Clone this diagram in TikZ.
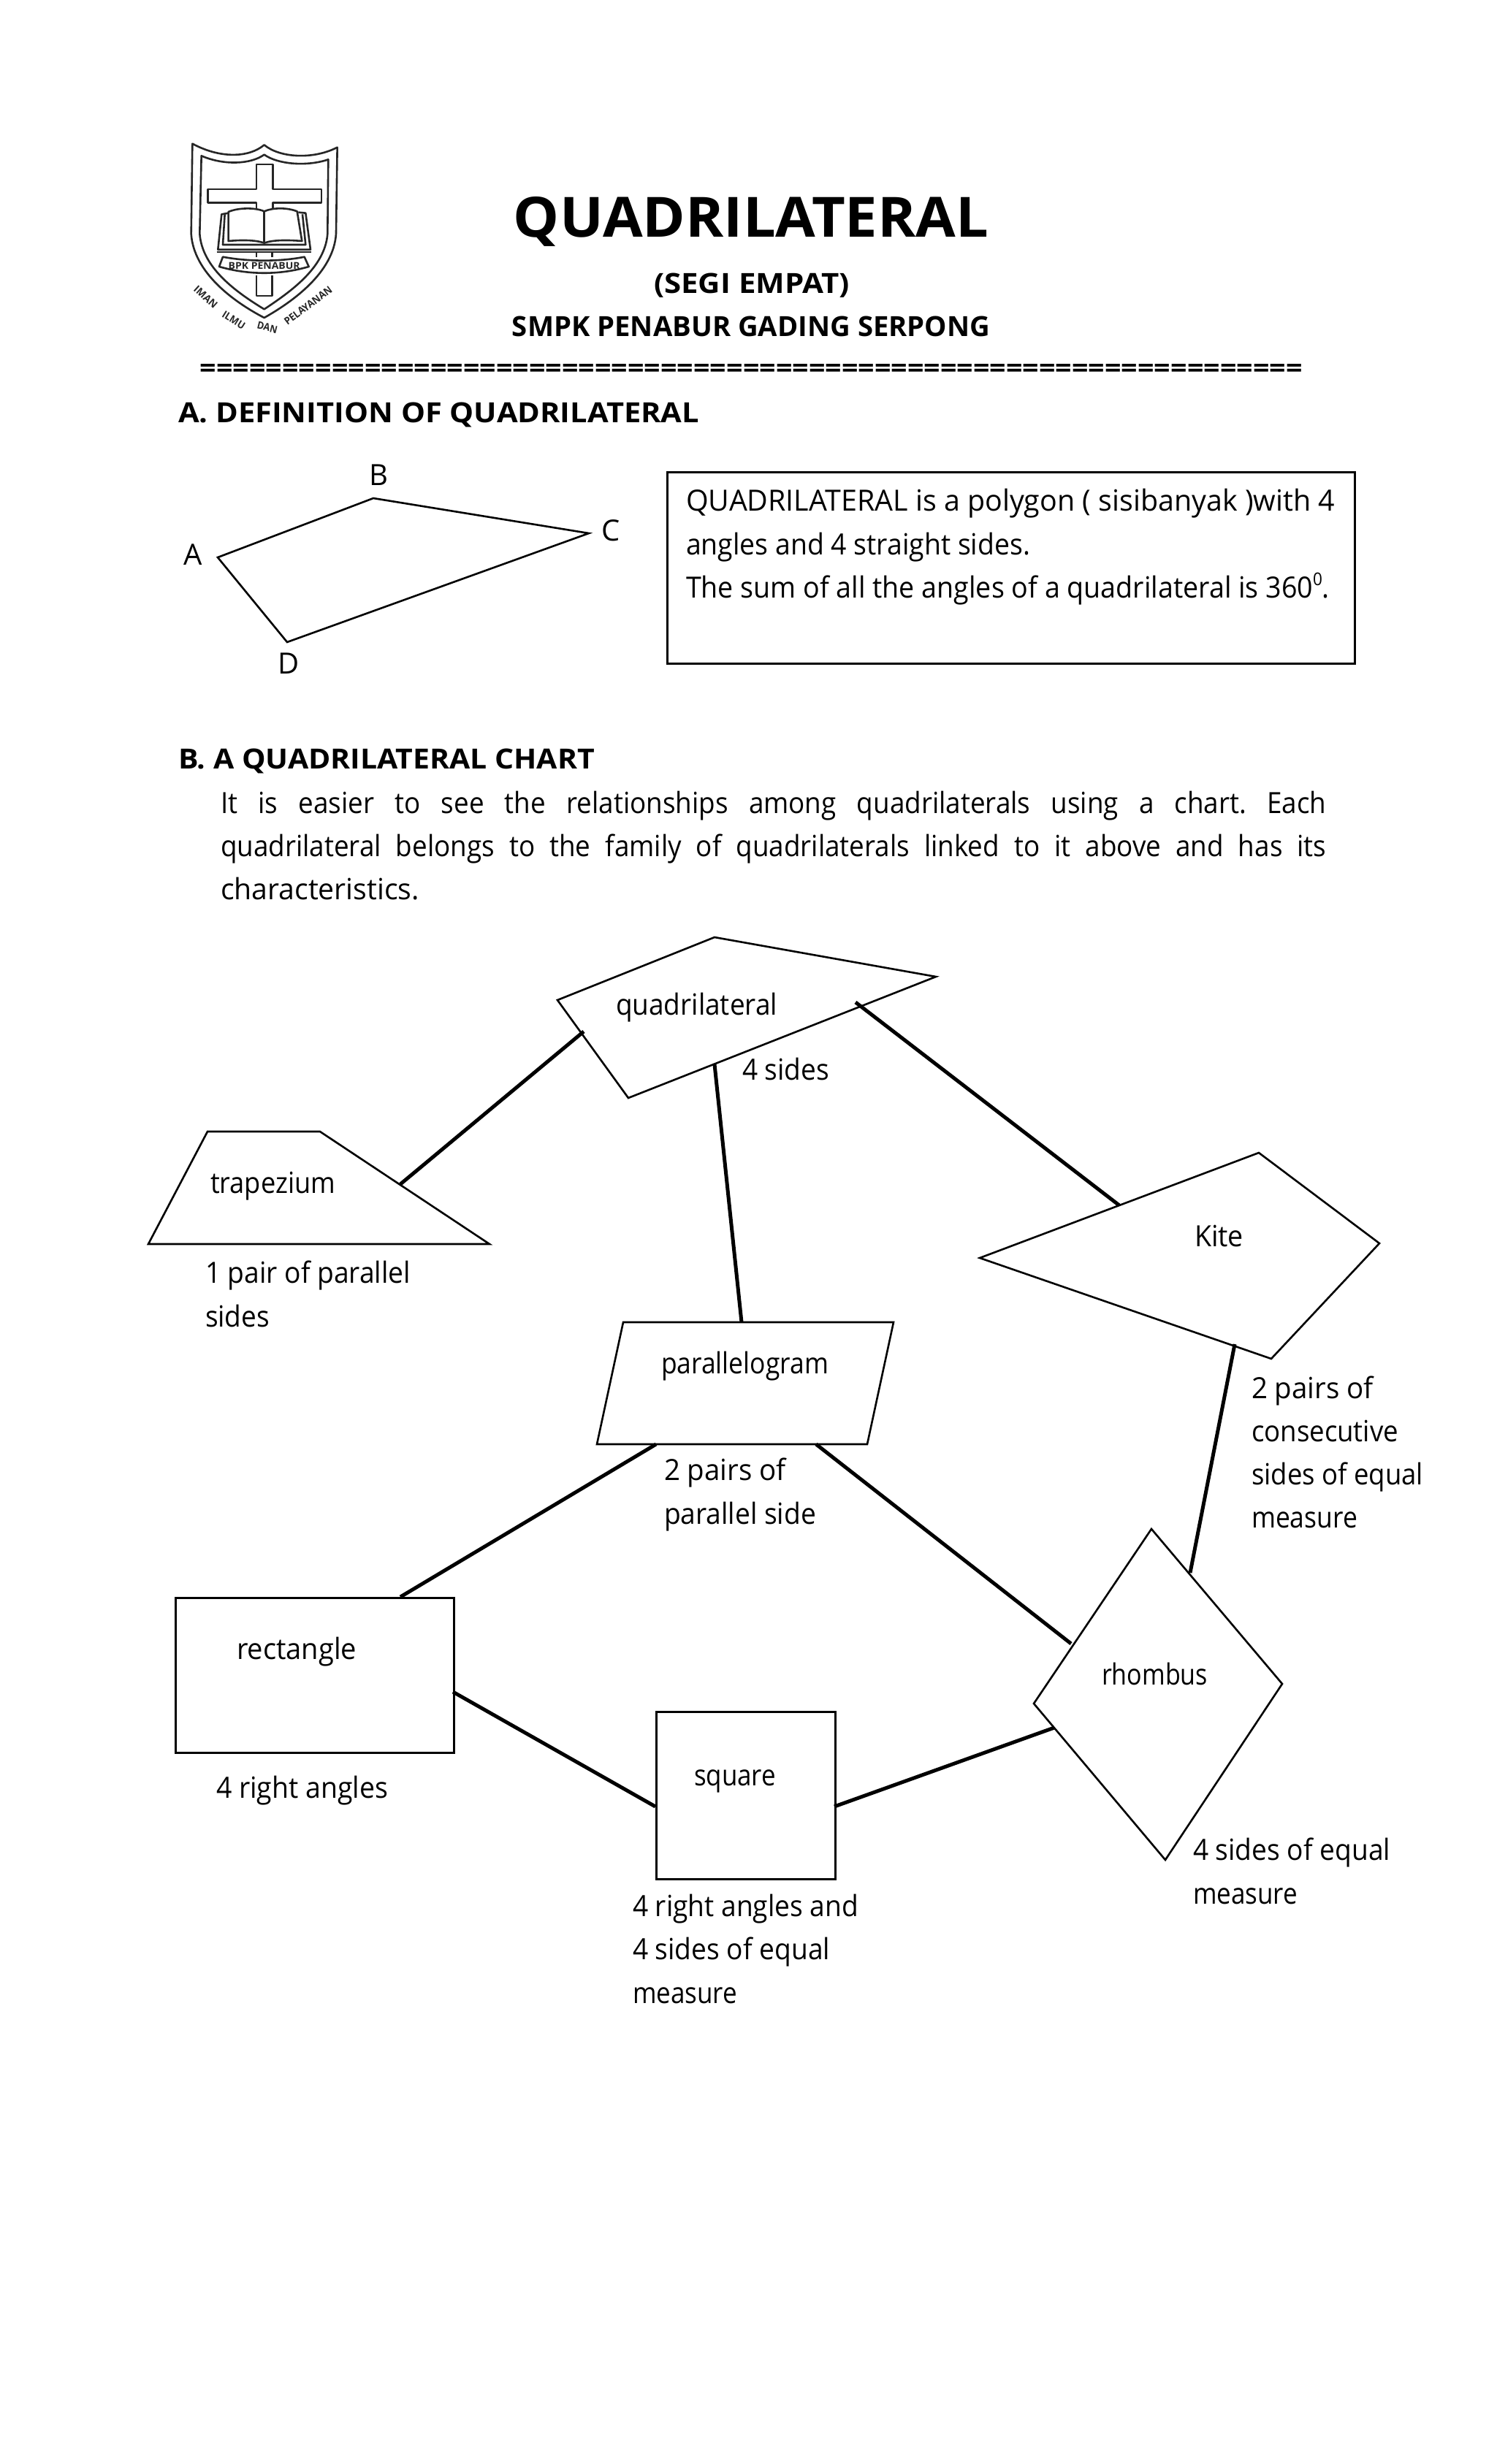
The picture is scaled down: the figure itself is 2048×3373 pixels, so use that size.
\documentclass[tikz,border=0pt]{standalone}
\usepackage{graphicx}
\usepackage{fontspec}
\setmainfont{Open Sans}
\frenchspacing
\newcommand{\bodyfs}{\fontsize{40}{48}\selectfont}
\newcommand{\fitw}[2]{\resizebox{#1pt}{\height}{#2}}
\tikzset{
  txt/.style={anchor=base west,inner sep=0pt,outer sep=0pt,font=\bodyfs},
  headtxt/.style={anchor=base west,inner sep=0pt,outer sep=0pt,font=\bfseries\fontsize{38}{44}\selectfont},
  poly/.style={draw=black,line width=2.6pt,line join=miter},
  link/.style={draw=black,line width=5pt},
  logo/.style={draw=black!85,line width=2.6pt,line join=round},
  motto/.style={inner sep=0pt,font=\bfseries\fontsize{14}{14}\selectfont,text=black!85}
}
\begin{document}
\begin{tikzpicture}[x=1pt,y=-1pt]
\useasboundingbox[fill=white] (0,0) rectangle (2048,3373);
% ---- logo
\begin{scope}[shift={(240,180)},x=0.3333pt,y=-0.3333pt]
 \draw[logo] (70,50) .. controls (180,110) and (300,110) .. (365,55) .. controls (430,110) and (570,115) .. (665,65) -- (660,420) .. controls (650,580) and (480,700) .. (365,765) .. controls (240,700) and (75,580) .. (65,420) -- cycle;
 \draw[logo] (107,100) .. controls (200,140) and (310,135) .. (365,95) .. controls (420,135) and (540,145) .. (628,115) -- (625,420) .. controls (615,560) and (470,660) .. (365,730) .. controls (250,660) and (110,560) .. (100,420) -- cycle;
 \draw[logo] (333,320) -- (333,293) -- (133,293) -- (133,237) -- (333,237) -- (333,135) -- (400,135) -- (400,237) -- (600,237) -- (600,293) -- (400,293) -- (400,320);
 \draw[logo] (218,450) -- (218,330) .. controls (260,312) and (330,312) .. (365,328) .. controls (400,312) and (460,312) .. (500,328) -- (520,450) .. controls (460,445) and (400,445) .. (365,458) .. controls (330,445) and (270,445) .. (218,450) -- cycle;
 \draw[logo] (365,328) -- (365,458);
 \draw[logo] (218,335) -- (190,340) -- (175,485) -- (555,485) -- (535,335) -- (505,332);
 \draw[logo] (170,495) -- (558,495);
 \draw[logo] (203,340) -- (195,465) -- (535,465) -- (522,340);
 \draw[logo] (333,495) -- (333,515); \draw[logo] (397,495) -- (397,515);
 \draw[logo] (333,590) -- (333,675) -- (397,675) -- (397,590);
 \draw[logo] (195,515) .. controls (300,535) and (430,535) .. (530,515) -- (548,555) .. controls (430,590) and (300,590) .. (180,555) -- cycle;
 \node[motto,font=\bfseries\fontsize{13}{13}\selectfont] (logotag) at (365,553) {\fitw{98}{BPK PENABUR}};
 \node[motto,rotate=-42] (logoa) at (125,680) {\fitw{38}{IMAN}};
 \node[motto,rotate=-32] (logob) at (240,775) {\fitw{34}{ILMU}};
 \node[motto,rotate=-14] (logoc) at (378,805) {\fitw{28}{DAN}};
 \node[motto,rotate=37] (logod) at (545,715) {\fitw{78}{PELAYANAN}};
\end{scope}
% ---- heading
\node[anchor=base,inner sep=0pt,font=\bfseries\fontsize{76}{80}\selectfont] (title) at (1028,324) {\fitw{650}{QUADRILATERAL}};
\node[anchor=base,inner sep=0pt,font=\bfseries\fontsize{38}{44}\selectfont] (sub) at (1029,401) {\fitw{268}{(SEGI EMPAT)}};
\node[anchor=base,inner sep=0pt,font=\bfseries\fontsize{38}{44}\selectfont] (school) at (1028,460) {\fitw{654}{SMPK PENABUR GADING SERPONG}};
\node[anchor=center,inner sep=0pt] (rule) at (1028,507) {\resizebox{1508pt}{18pt}{\bfseries ===================================================================}};
\node[headtxt] (seca) at (244,578) {\fitw{713}{A. DEFINITION OF QUADRILATERAL}};
% ---- ABCD
\coordinate (pa) at (298,763); \coordinate (pb) at (511,682); \coordinate (pc) at (806,730); \coordinate (pd) at (393,879);
\draw[poly] (pa) -- (pb) -- (pc) -- (pd) -- cycle;
\node[txt,anchor=base] (la) at (264,773) {A};
\node[txt,anchor=base] (lb) at (518,664) {B};
\node[txt,anchor=base] (lc) at (836,740) {C};
\node[txt,anchor=base] (ld) at (395,922) {D};
% ---- definition box
\node[draw=black,line width=2.6pt,minimum width=941pt,minimum height=262pt,anchor=north west,inner sep=0pt] (defbox) at (912,645) {};
\node[txt] (d1) at (939,699) {\fitw{888}{QUADRILATERAL is a polygon ( sisibanyak )with 4}};
\node[txt] (d2) at (939,759) {\fitw{471}{angles and 4 straight sides.}};
\node[txt] (d3) at (939,818) {\fitw{881}{The sum of all the angles of a quadrilateral is 360\raisebox{0.42em}{\fontsize{24}{24}\selectfont 0}.}};
% ---- section B
\node[headtxt] (secb) at (244,1052) {\fitw{570}{B. A QUADRILATERAL CHART}};
\node[txt] (p1) at (302,1113) {\scalebox{0.92}[1]{\makebox[1645pt][s]{It is easier to see the relationships among quadrilaterals using a chart. Each}}};
\node[txt] (p2) at (302,1172) {\scalebox{0.92}[1]{\makebox[1645pt][s]{quadrilateral belongs to the family of quadrilaterals linked to it above and has its}}};
\node[txt] (p3) at (302,1231) {\fitw{272}{characteristics.}};
% ---- chart shapes
\draw[poly] (763,1369) -- (978,1283) -- (1281,1337) -- (860,1503) -- cycle;
\draw[poly] (203,1703) -- (670,1703) -- (438,1549) -- (284,1549) -- cycle;
\draw[poly] (1341,1722) -- (1723,1578) -- (1888,1702) -- (1740,1860) -- cycle;
\draw[poly] (853,1810) -- (1223,1810) -- (1187,1977) -- (817,1977) -- cycle;
\node[draw=black,line width=2.6pt,minimum width=381pt,minimum height=212pt,anchor=north west,inner sep=0pt] (rect) at (239,2186) {};
\node[draw=black,line width=2.6pt,minimum width=245pt,minimum height=229pt,anchor=north west,inner sep=0pt] (squ) at (897,2342) {};
\draw[poly] (1576,2093) -- (1755,2305) -- (1595,2546) -- (1415,2332) -- cycle;
% ---- connector ends
\coordinate (tq) at (548,1621); \coordinate (qt) at (799,1412);
\coordinate (qp) at (978,1457); \coordinate (pq) at (1015,1810);
\coordinate (qk) at (1171,1372); \coordinate (kq) at (1532,1650);
\coordinate (pr) at (898,1977); \coordinate (rp) at (548,2186);
\coordinate (ph) at (1117,1977); \coordinate (hp) at (1466,2250);
\coordinate (rs) at (620,2316); \coordinate (sr) at (897,2473);
\coordinate (sh) at (1142,2473); \coordinate (hs) at (1443,2365);
\coordinate (kh) at (1690,1840); \coordinate (hk) at (1629,2153);
\draw[link] (tq) -- (qt);
\draw[link] (qp) -- (pq);
\draw[link] (qk) -- (kq);
\draw[link] (pr) -- (rp);
\draw[link] (ph) -- (hp);
\draw[link] (rs) -- (sr);
\draw[link] (sh) -- (hs);
\draw[link] (kh) -- (hk);
% ---- chart labels
\node[txt] (t1) at (843,1389) {\fitw{221}{quadrilateral}};
\node[txt] (t2) at (1016,1478) {\fitw{119}{4 sides}};
\node[txt] (t3) at (288,1633) {\fitw{171}{trapezium}};
\node[txt] (t4) at (281,1756) {\fitw{281}{1 pair of parallel}};
\node[txt] (t5) at (281,1816) {\fitw{88}{sides}};
\node[txt] (t6) at (1635,1706) {\fitw{67}{Kite}};
\node[txt] (t7) at (905,1880) {\fitw{229}{parallelogram}};
\node[txt] (t8) at (909,2026) {\fitw{167}{2 pairs of}};
\node[txt] (t9) at (909,2086) {\fitw{208}{parallel side}};
\node[txt] (t10) at (1713,1914) {\fitw{167}{2 pairs of}};
\node[txt] (t11) at (1713,1973) {\fitw{201}{consecutive}};
\node[txt] (t12) at (1713,2032) {\fitw{235}{sides of equal}};
\node[txt] (t13) at (1713,2091) {\fitw{145}{measure}};
\node[txt] (t14) at (1508,2306) {\fitw{145}{rhombus}};
\node[txt] (t15) at (324,2271) {\fitw{164}{rectangle}};
\node[txt] (t16) at (296,2461) {\fitw{235}{4 right angles}};
\node[txt] (t17) at (950,2444) {\fitw{112}{square}};
\node[txt] (t18) at (866,2623) {\fitw{309}{4 right angles and}};
\node[txt] (t19) at (866,2682) {\fitw{270}{4 sides of equal}};
\node[txt] (t20) at (866,2742) {\fitw{143}{measure}};
\node[txt] (t21) at (1633,2546) {\fitw{270}{4 sides of equal}};
\node[txt] (t22) at (1633,2606) {\fitw{143}{measure}};
\end{tikzpicture}
\end{document}
